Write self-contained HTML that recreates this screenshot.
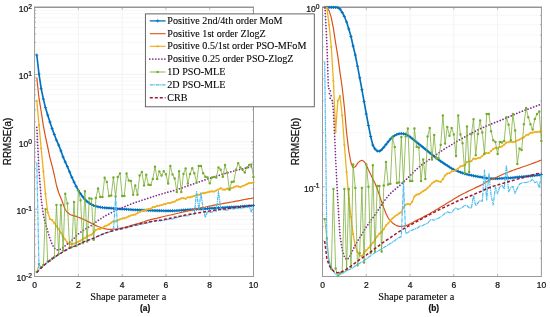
<!DOCTYPE html>
<html lang="en">
<head>
<meta charset="utf-8">
<title>RRMSE versus shape parameter a</title>
<style>
html,body{margin:0;padding:0;background:#fff;}
body{width:550px;height:317px;overflow:hidden;font-family:"Liberation Sans",sans-serif;}
svg{display:block;}
</style>
</head>
<body>
<svg width="550" height="317" viewBox="0 0 550 317">
<rect width="550" height="317" fill="#fff"/>
<path d="M78.4 7.2V276.5M122.2 7.2V276.5M165.9 7.2V276.5M209.7 7.2V276.5M34.6 74.5H253.5M34.6 141.8H253.5M34.6 209.2H253.5" stroke="#f0f0f0" stroke-width="0.8" fill="none"/>
<path d="M34.6 54.3H253.5M34.6 42.4H253.5M34.6 34H253.5M34.6 27.5H253.5M34.6 22.1H253.5M34.6 17.6H253.5M34.6 13.7H253.5M34.6 10.3H253.5M34.6 121.6H253.5M34.6 109.7H253.5M34.6 101.3H253.5M34.6 94.8H253.5M34.6 89.5H253.5M34.6 85H253.5M34.6 81H253.5M34.6 77.6H253.5M34.6 188.9H253.5M34.6 177.1H253.5M34.6 168.6H253.5M34.6 162.1H253.5M34.6 156.8H253.5M34.6 152.3H253.5M34.6 148.4H253.5M34.6 144.9H253.5M34.6 256.2H253.5M34.6 244.4H253.5M34.6 236H253.5M34.6 229.4H253.5M34.6 224.1H253.5M34.6 219.6H253.5M34.6 215.7H253.5M34.6 212.3H253.5" stroke="#f5f5f5" stroke-width="0.7" fill="none"/>
<path d="M366.3 7.2V276.5M410.1 7.2V276.5M453.8 7.2V276.5M497.6 7.2V276.5M322.5 186.8H541.4" stroke="#f0f0f0" stroke-width="0.8" fill="none"/>
<path d="M322.5 132.7H541.4M322.5 101.1H541.4M322.5 78.7H541.4M322.5 61.3H541.4M322.5 47H541.4M322.5 35H541.4M322.5 24.6H541.4M322.5 15.4H541.4M322.5 258.3H541.4M322.5 240.9H541.4M322.5 226.6H541.4M322.5 214.6H541.4M322.5 204.2H541.4M322.5 195H541.4" stroke="#f5f5f5" stroke-width="0.7" fill="none"/>
<defs><clipPath id="ca"><rect x="34.6" y="5.2" width="220.4" height="272.8"/></clipPath><clipPath id="cb"><rect x="322.5" y="5.2" width="220.4" height="272.8"/></clipPath></defs>
<rect x="34.6" y="7.2" width="218.9" height="269.3" fill="none" stroke="#9a9a9a" stroke-width="1"/>
<path d="M34.1 7.2H254" stroke="#8a8a8a" stroke-width="1.1" fill="none"/>
<path d="M78.4 276.5v-2.4M78.4 7.2v2.4M122.2 276.5v-2.4M122.2 7.2v2.4M165.9 276.5v-2.4M165.9 7.2v2.4M209.7 276.5v-2.4M209.7 7.2v2.4M34.6 74.5h2.4M253.5 74.5h-2.4M34.6 141.8h2.4M253.5 141.8h-2.4M34.6 209.2h2.4M253.5 209.2h-2.4M34.6 54.3h1.3M253.5 54.3h-1.3M34.6 42.4h1.3M253.5 42.4h-1.3M34.6 34h1.3M253.5 34h-1.3M34.6 27.5h1.3M253.5 27.5h-1.3M34.6 22.1h1.3M253.5 22.1h-1.3M34.6 17.6h1.3M253.5 17.6h-1.3M34.6 13.7h1.3M253.5 13.7h-1.3M34.6 10.3h1.3M253.5 10.3h-1.3M34.6 121.6h1.3M253.5 121.6h-1.3M34.6 109.7h1.3M253.5 109.7h-1.3M34.6 101.3h1.3M253.5 101.3h-1.3M34.6 94.8h1.3M253.5 94.8h-1.3M34.6 89.5h1.3M253.5 89.5h-1.3M34.6 85h1.3M253.5 85h-1.3M34.6 81h1.3M253.5 81h-1.3M34.6 77.6h1.3M253.5 77.6h-1.3M34.6 188.9h1.3M253.5 188.9h-1.3M34.6 177.1h1.3M253.5 177.1h-1.3M34.6 168.6h1.3M253.5 168.6h-1.3M34.6 162.1h1.3M253.5 162.1h-1.3M34.6 156.8h1.3M253.5 156.8h-1.3M34.6 152.3h1.3M253.5 152.3h-1.3M34.6 148.4h1.3M253.5 148.4h-1.3M34.6 144.9h1.3M253.5 144.9h-1.3M34.6 256.2h1.3M253.5 256.2h-1.3M34.6 244.4h1.3M253.5 244.4h-1.3M34.6 236h1.3M253.5 236h-1.3M34.6 229.4h1.3M253.5 229.4h-1.3M34.6 224.1h1.3M253.5 224.1h-1.3M34.6 219.6h1.3M253.5 219.6h-1.3M34.6 215.7h1.3M253.5 215.7h-1.3M34.6 212.3h1.3M253.5 212.3h-1.3" stroke="#9a9a9a" stroke-width="0.7" fill="none"/>
<rect x="322.5" y="7.2" width="218.9" height="269.3" fill="none" stroke="#9a9a9a" stroke-width="1"/>
<path d="M322 7.2H541.9" stroke="#8a8a8a" stroke-width="1.1" fill="none"/>
<path d="M366.3 276.5v-2.4M366.3 7.2v2.4M410.1 276.5v-2.4M410.1 7.2v2.4M453.8 276.5v-2.4M453.8 7.2v2.4M497.6 276.5v-2.4M497.6 7.2v2.4M322.5 186.8h2.4M541.4 186.8h-2.4M322.5 132.7h1.3M541.4 132.7h-1.3M322.5 101.1h1.3M541.4 101.1h-1.3M322.5 78.7h1.3M541.4 78.7h-1.3M322.5 61.3h1.3M541.4 61.3h-1.3M322.5 47h1.3M541.4 47h-1.3M322.5 35h1.3M541.4 35h-1.3M322.5 24.6h1.3M541.4 24.6h-1.3M322.5 15.4h1.3M541.4 15.4h-1.3M322.5 258.3h1.3M541.4 258.3h-1.3M322.5 240.9h1.3M541.4 240.9h-1.3M322.5 226.6h1.3M541.4 226.6h-1.3M322.5 214.6h1.3M541.4 214.6h-1.3M322.5 204.2h1.3M541.4 204.2h-1.3M322.5 195h1.3M541.4 195h-1.3" stroke="#9a9a9a" stroke-width="0.7" fill="none"/>
<g clip-path="url(#ca)">
<polyline points="36.8,55 39,74.1 41.2,88.7 43.4,99.1 45.5,107.7 47.7,115 49.9,122 52.1,128.6 54.3,134.4 56.5,140.2 58.7,145.1 60.9,150.8 63.1,157 65.2,161.9 67.4,166.7 69.6,171.9 71.8,177.2 74,182 76.2,186.4 78.4,190.5 80.6,193.8 82.8,196.8 84.9,199.4 87.1,201.6 89.3,203.2 91.5,204.5 93.7,205.5 95.9,206.2 98.1,206.8 100.3,207.2 102.5,207.5 104.6,207.7 106.8,207.9 109,208.1 111.2,208.3 113.4,208.4 115.6,208.6 117.8,208.8 120,208.9 122.2,209.1 124.3,209.2 126.5,209.3 128.7,209.5 130.9,209.6 133.1,209.7 135.3,209.8 137.5,209.9 139.7,210 141.9,210.1 144.1,210.2 146.2,210.3 148.4,210.4 150.6,210.4 152.8,210.5 155,210.6 157.2,210.6 159.4,210.6 161.6,210.7 163.8,210.7 165.9,210.8 168.1,210.8 170.3,210.8 172.5,210.8 174.7,210.7 176.9,210.6 179.1,210.5 181.3,210.3 183.5,210.1 185.6,209.9 187.8,209.8 190,209.6 192.2,209.5 194.4,209.4 196.6,209.3 198.8,209.2 201,209 203.2,208.9 205.3,208.7 207.5,208.6 209.7,208.4 211.9,208.2 214.1,208.1 216.3,207.9 218.5,207.8 220.7,207.7 222.9,207.6 225,207.5 227.2,207.3 229.4,207.2 231.6,207.1 233.8,207 236,206.9 238.2,206.7 240.4,206.6 242.6,206.4 244.7,206.2 246.9,206.1 249.1,205.9 251.3,205.7 253.5,205.5" fill="none" stroke="#0072BD" stroke-width="1.65" stroke-linejoin="round"/>
<path d="M35.2 55h3.1M36.8 53.5v3.1M37.4 74.1h3.1M39 72.6v3.1M39.6 88.7h3.1M41.2 87.2v3.1M41.8 99.1h3.1M43.4 97.6v3.1M44 107.7h3.1M45.5 106.1v3.1M46.2 115h3.1M47.7 113.5v3.1M48.4 122h3.1M49.9 120.5v3.1M50.6 128.6h3.1M52.1 127.1v3.1M52.8 134.4h3.1M54.3 132.9v3.1M54.9 140.2h3.1M56.5 138.7v3.1M57.1 145.1h3.1M58.7 143.5v3.1M59.3 150.8h3.1M60.9 149.3v3.1M61.5 157h3.1M63.1 155.4v3.1M63.7 161.9h3.1M65.2 160.4v3.1M65.9 166.7h3.1M67.4 165.2v3.1M68.1 171.9h3.1M69.6 170.4v3.1M70.3 177.2h3.1M71.8 175.7v3.1M72.5 182h3.1M74 180.5v3.1M74.6 186.4h3.1M76.2 184.9v3.1M76.8 190.5h3.1M78.4 188.9v3.1M79 193.8h3.1M80.6 192.3v3.1M81.2 196.8h3.1M82.8 195.3v3.1M83.4 199.4h3.1M84.9 197.8v3.1M85.6 201.6h3.1M87.1 200.1v3.1M87.8 203.2h3.1M89.3 201.7v3.1M90 204.5h3.1M91.5 202.9v3.1M92.2 205.5h3.1M93.7 203.9v3.1M94.3 206.2h3.1M95.9 204.7v3.1M96.5 206.8h3.1M98.1 205.3v3.1M98.7 207.2h3.1M100.3 205.7v3.1M100.9 207.5h3.1M102.5 206v3.1M103.1 207.7h3.1M104.6 206.2v3.1M105.3 207.9h3.1M106.8 206.4v3.1M107.5 208.1h3.1M109 206.5v3.1M109.7 208.3h3.1M111.2 206.7v3.1M111.9 208.4h3.1M113.4 206.9v3.1M114 208.6h3.1M115.6 207.1v3.1M116.2 208.8h3.1M117.8 207.2v3.1M118.4 208.9h3.1M120 207.4v3.1M120.6 209.1h3.1M122.2 207.5v3.1M122.8 209.2h3.1M124.3 207.7v3.1M125 209.3h3.1M126.5 207.8v3.1M127.2 209.5h3.1M128.7 207.9v3.1M129.4 209.6h3.1M130.9 208v3.1M131.6 209.7h3.1M133.1 208.2v3.1M133.7 209.8h3.1M135.3 208.3v3.1M135.9 209.9h3.1M137.5 208.4v3.1M138.1 210h3.1M139.7 208.5v3.1M140.3 210.1h3.1M141.9 208.6v3.1M142.5 210.2h3.1M144.1 208.7v3.1M144.7 210.3h3.1M146.2 208.7v3.1M146.9 210.4h3.1M148.4 208.8v3.1M149.1 210.4h3.1M150.6 208.9v3.1M151.3 210.5h3.1M152.8 209v3.1M153.4 210.6h3.1M155 209v3.1M155.6 210.6h3.1M157.2 209.1v3.1M157.8 210.6h3.1M159.4 209.1v3.1M160 210.7h3.1M161.6 209.1v3.1M162.2 210.7h3.1M163.8 209.2v3.1M164.4 210.8h3.1M165.9 209.2v3.1M166.6 210.8h3.1M168.1 209.2v3.1M168.8 210.8h3.1M170.3 209.2v3.1M171 210.8h3.1M172.5 209.2v3.1M173.1 210.7h3.1M174.7 209.2v3.1M175.3 210.6h3.1M176.9 209.1v3.1M177.5 210.5h3.1M179.1 208.9v3.1M179.7 210.3h3.1M181.3 208.7v3.1M181.9 210.1h3.1M183.5 208.6v3.1M184.1 209.9h3.1M185.6 208.4v3.1M186.3 209.8h3.1M187.8 208.2v3.1M188.5 209.6h3.1M190 208.1v3.1M190.7 209.5h3.1M192.2 208v3.1M192.8 209.4h3.1M194.4 207.9v3.1M195 209.3h3.1M196.6 207.7v3.1M197.2 209.2h3.1M198.8 207.6v3.1M199.4 209h3.1M201 207.5v3.1M201.6 208.9h3.1M203.2 207.3v3.1M203.8 208.7h3.1M205.3 207.2v3.1M206 208.6h3.1M207.5 207v3.1M208.2 208.4h3.1M209.7 206.9v3.1M210.4 208.2h3.1M211.9 206.7v3.1M212.5 208.1h3.1M214.1 206.5v3.1M214.7 207.9h3.1M216.3 206.4v3.1M216.9 207.8h3.1M218.5 206.2v3.1M219.1 207.7h3.1M220.7 206.1v3.1M221.3 207.6h3.1M222.9 206v3.1M223.5 207.5h3.1M225 205.9v3.1M225.7 207.3h3.1M227.2 205.8v3.1M227.9 207.2h3.1M229.4 205.7v3.1M230.1 207.1h3.1M231.6 205.6v3.1M232.2 207h3.1M233.8 205.5v3.1M234.4 206.9h3.1M236 205.3v3.1M236.6 206.7h3.1M238.2 205.2v3.1M238.8 206.6h3.1M240.4 205v3.1M241 206.4h3.1M242.6 204.9v3.1M243.2 206.2h3.1M244.7 204.7v3.1M245.4 206.1h3.1M246.9 204.5v3.1M247.6 205.9h3.1M249.1 204.3v3.1M249.8 205.7h3.1M251.3 204.2v3.1M251.9 205.5h3.1M253.5 204v3.1" stroke="#0072BD" stroke-width="0.9" fill="none"/>
<polyline points="36.8,77.6 39,98.2 41.2,111.5 43.4,126.1 45.5,136.9 47.7,147 49.9,157.7 52.1,165.9 54.3,175 56.5,185.5 58.7,192.7 60.9,197.9 63.1,204 65.2,209.5 67.4,212.5 69.6,214.3 71.8,215.2 74,215.8 76.2,216.4 78.4,217.2 80.6,218.1 82.8,219 84.9,220 87.1,221.1 89.3,222.1 91.5,223.3 93.7,224.5 95.9,225.6 98.1,226.5 100.3,227.3 102.5,228.1 104.6,228.7 106.8,229.1 109,229.3 111.2,229.4 113.4,229.2 115.6,229 117.8,228.7 120,228.3 122.2,227.9 124.3,227.5 126.5,226.9 128.7,226.3 130.9,225.6 133.1,224.9 135.3,224.3 137.5,223.7 139.7,223 141.9,222.4 144.1,221.7 146.2,220.9 148.4,220.3 150.6,219.7 152.8,219.2 155,218.7 157.2,218.2 159.4,217.6 161.6,217 163.8,216.5 165.9,216 168.1,215.5 170.3,215 172.5,214.6 174.7,214 176.9,213.5 179.1,213 181.3,212.4 183.5,211.9 185.6,211.3 187.8,210.8 190,210.3 192.2,209.8 194.4,209.3 196.6,208.9 198.8,208.4 201,207.9 203.2,207.4 205.3,207 207.5,206.5 209.7,206.1 211.9,205.7 214.1,205.2 216.3,204.8 218.5,204.4 220.7,204 222.9,203.6 225,203.2 227.2,202.8 229.4,202.4 231.6,202 233.8,201.6 236,201.2 238.2,200.8 240.4,200.4 242.6,199.9 244.7,199.5 246.9,199.1 249.1,198.7 251.3,198.3 253.5,197.8" fill="none" stroke="#D95319" stroke-width="1.2" stroke-linejoin="round"/>
<polyline points="36.8,100.8 39,124.9 41.2,148.5 43.4,171.4 45.5,194.1 47.7,212.3 49.9,218.9 52.1,220.1 54.3,222.9 56.5,226.4 58.7,229 60.9,232.9 63.1,236.5 65.2,239.5 67.4,242.7 69.6,244.1 71.8,244 74,243.6 76.2,242.8 78.4,241.7 80.6,240.6 82.8,239.3 84.9,237.9 87.1,236.1 89.3,235.5 91.5,234.6 93.7,232.3 95.9,230 98.1,229 100.3,228.8 102.5,227.9 104.6,226.3 106.8,225.5 109,224.4 111.2,222.7 113.4,221.4 115.6,221.3 117.8,220.3 120,219.3 122.2,218.5 124.3,218.2 126.5,217.5 128.7,216.4 130.9,215.5 133.1,214.8 135.3,214.5 137.5,213.2 139.7,211.9 141.9,211.1 144.1,210.7 146.2,209.8 148.4,209.1 150.6,208.8 152.8,207.2 155,206.9 157.2,205.9 159.4,205.6 161.6,205 163.8,204.3 165.9,203.9 168.1,203 170.3,203.1 172.5,202.1 174.7,201.6 176.9,200.2 179.1,199.4 181.3,198.3 183.5,198.2 185.6,198.8 187.8,197.3 190,197.4 192.2,196.6 194.4,196 196.6,195.1 198.8,194.9 201,193.7 203.2,193.2 205.3,192.9 207.5,192.3 209.7,191.7 211.9,191.3 214.1,191.6 216.3,190.5 218.5,189.6 220.7,188.2 222.9,189.6 225,189.7 227.2,188.6 229.4,188.9 231.6,188.1 233.8,187.3 236,186.3 238.2,186.4 240.4,187.2 242.6,186 244.7,185.3 246.9,184.2 249.1,183.2 251.3,183 253.5,182.4" fill="none" stroke="#EDB120" stroke-width="1.3" stroke-linejoin="round"/>
<path d="M35.7 100.8a1.1 1.1 0 1 0 2.2 0a1.1 1.1 0 1 0 -2.2 0zM37.9 124.9a1.1 1.1 0 1 0 2.2 0a1.1 1.1 0 1 0 -2.2 0zM40.1 148.5a1.1 1.1 0 1 0 2.2 0a1.1 1.1 0 1 0 -2.2 0zM42.3 171.4a1.1 1.1 0 1 0 2.2 0a1.1 1.1 0 1 0 -2.2 0zM44.4 194.1a1.1 1.1 0 1 0 2.2 0a1.1 1.1 0 1 0 -2.2 0zM46.6 212.3a1.1 1.1 0 1 0 2.2 0a1.1 1.1 0 1 0 -2.2 0zM48.8 218.9a1.1 1.1 0 1 0 2.2 0a1.1 1.1 0 1 0 -2.2 0zM51 220.1a1.1 1.1 0 1 0 2.2 0a1.1 1.1 0 1 0 -2.2 0zM53.2 222.9a1.1 1.1 0 1 0 2.2 0a1.1 1.1 0 1 0 -2.2 0zM55.4 226.4a1.1 1.1 0 1 0 2.2 0a1.1 1.1 0 1 0 -2.2 0zM57.6 229a1.1 1.1 0 1 0 2.2 0a1.1 1.1 0 1 0 -2.2 0zM59.8 232.9a1.1 1.1 0 1 0 2.2 0a1.1 1.1 0 1 0 -2.2 0zM62 236.5a1.1 1.1 0 1 0 2.2 0a1.1 1.1 0 1 0 -2.2 0zM64.1 239.5a1.1 1.1 0 1 0 2.2 0a1.1 1.1 0 1 0 -2.2 0zM66.3 242.7a1.1 1.1 0 1 0 2.2 0a1.1 1.1 0 1 0 -2.2 0zM68.5 244.1a1.1 1.1 0 1 0 2.2 0a1.1 1.1 0 1 0 -2.2 0zM70.7 244a1.1 1.1 0 1 0 2.2 0a1.1 1.1 0 1 0 -2.2 0zM72.9 243.6a1.1 1.1 0 1 0 2.2 0a1.1 1.1 0 1 0 -2.2 0zM75.1 242.8a1.1 1.1 0 1 0 2.2 0a1.1 1.1 0 1 0 -2.2 0zM77.3 241.7a1.1 1.1 0 1 0 2.2 0a1.1 1.1 0 1 0 -2.2 0zM79.5 240.6a1.1 1.1 0 1 0 2.2 0a1.1 1.1 0 1 0 -2.2 0zM81.7 239.3a1.1 1.1 0 1 0 2.2 0a1.1 1.1 0 1 0 -2.2 0zM83.8 237.9a1.1 1.1 0 1 0 2.2 0a1.1 1.1 0 1 0 -2.2 0zM86 236.1a1.1 1.1 0 1 0 2.2 0a1.1 1.1 0 1 0 -2.2 0zM88.2 235.5a1.1 1.1 0 1 0 2.2 0a1.1 1.1 0 1 0 -2.2 0zM90.4 234.6a1.1 1.1 0 1 0 2.2 0a1.1 1.1 0 1 0 -2.2 0zM92.6 232.3a1.1 1.1 0 1 0 2.2 0a1.1 1.1 0 1 0 -2.2 0zM94.8 230a1.1 1.1 0 1 0 2.2 0a1.1 1.1 0 1 0 -2.2 0zM97 229a1.1 1.1 0 1 0 2.2 0a1.1 1.1 0 1 0 -2.2 0zM99.2 228.8a1.1 1.1 0 1 0 2.2 0a1.1 1.1 0 1 0 -2.2 0zM101.4 227.9a1.1 1.1 0 1 0 2.2 0a1.1 1.1 0 1 0 -2.2 0zM103.5 226.3a1.1 1.1 0 1 0 2.2 0a1.1 1.1 0 1 0 -2.2 0zM105.7 225.5a1.1 1.1 0 1 0 2.2 0a1.1 1.1 0 1 0 -2.2 0zM107.9 224.4a1.1 1.1 0 1 0 2.2 0a1.1 1.1 0 1 0 -2.2 0zM110.1 222.7a1.1 1.1 0 1 0 2.2 0a1.1 1.1 0 1 0 -2.2 0zM112.3 221.4a1.1 1.1 0 1 0 2.2 0a1.1 1.1 0 1 0 -2.2 0zM114.5 221.3a1.1 1.1 0 1 0 2.2 0a1.1 1.1 0 1 0 -2.2 0zM116.7 220.3a1.1 1.1 0 1 0 2.2 0a1.1 1.1 0 1 0 -2.2 0zM118.9 219.3a1.1 1.1 0 1 0 2.2 0a1.1 1.1 0 1 0 -2.2 0zM121.1 218.5a1.1 1.1 0 1 0 2.2 0a1.1 1.1 0 1 0 -2.2 0zM123.2 218.2a1.1 1.1 0 1 0 2.2 0a1.1 1.1 0 1 0 -2.2 0zM125.4 217.5a1.1 1.1 0 1 0 2.2 0a1.1 1.1 0 1 0 -2.2 0zM127.6 216.4a1.1 1.1 0 1 0 2.2 0a1.1 1.1 0 1 0 -2.2 0zM129.8 215.5a1.1 1.1 0 1 0 2.2 0a1.1 1.1 0 1 0 -2.2 0zM132 214.8a1.1 1.1 0 1 0 2.2 0a1.1 1.1 0 1 0 -2.2 0zM134.2 214.5a1.1 1.1 0 1 0 2.2 0a1.1 1.1 0 1 0 -2.2 0zM136.4 213.2a1.1 1.1 0 1 0 2.2 0a1.1 1.1 0 1 0 -2.2 0zM138.6 211.9a1.1 1.1 0 1 0 2.2 0a1.1 1.1 0 1 0 -2.2 0zM140.8 211.1a1.1 1.1 0 1 0 2.2 0a1.1 1.1 0 1 0 -2.2 0zM143 210.7a1.1 1.1 0 1 0 2.2 0a1.1 1.1 0 1 0 -2.2 0zM145.1 209.8a1.1 1.1 0 1 0 2.2 0a1.1 1.1 0 1 0 -2.2 0zM147.3 209.1a1.1 1.1 0 1 0 2.2 0a1.1 1.1 0 1 0 -2.2 0zM149.5 208.8a1.1 1.1 0 1 0 2.2 0a1.1 1.1 0 1 0 -2.2 0zM151.7 207.2a1.1 1.1 0 1 0 2.2 0a1.1 1.1 0 1 0 -2.2 0zM153.9 206.9a1.1 1.1 0 1 0 2.2 0a1.1 1.1 0 1 0 -2.2 0zM156.1 205.9a1.1 1.1 0 1 0 2.2 0a1.1 1.1 0 1 0 -2.2 0zM158.3 205.6a1.1 1.1 0 1 0 2.2 0a1.1 1.1 0 1 0 -2.2 0zM160.5 205a1.1 1.1 0 1 0 2.2 0a1.1 1.1 0 1 0 -2.2 0zM162.7 204.3a1.1 1.1 0 1 0 2.2 0a1.1 1.1 0 1 0 -2.2 0zM164.8 203.9a1.1 1.1 0 1 0 2.2 0a1.1 1.1 0 1 0 -2.2 0zM167 203a1.1 1.1 0 1 0 2.2 0a1.1 1.1 0 1 0 -2.2 0zM169.2 203.1a1.1 1.1 0 1 0 2.2 0a1.1 1.1 0 1 0 -2.2 0zM171.4 202.1a1.1 1.1 0 1 0 2.2 0a1.1 1.1 0 1 0 -2.2 0zM173.6 201.6a1.1 1.1 0 1 0 2.2 0a1.1 1.1 0 1 0 -2.2 0zM175.8 200.2a1.1 1.1 0 1 0 2.2 0a1.1 1.1 0 1 0 -2.2 0zM178 199.4a1.1 1.1 0 1 0 2.2 0a1.1 1.1 0 1 0 -2.2 0zM180.2 198.3a1.1 1.1 0 1 0 2.2 0a1.1 1.1 0 1 0 -2.2 0zM182.4 198.2a1.1 1.1 0 1 0 2.2 0a1.1 1.1 0 1 0 -2.2 0zM184.5 198.8a1.1 1.1 0 1 0 2.2 0a1.1 1.1 0 1 0 -2.2 0zM186.7 197.3a1.1 1.1 0 1 0 2.2 0a1.1 1.1 0 1 0 -2.2 0zM188.9 197.4a1.1 1.1 0 1 0 2.2 0a1.1 1.1 0 1 0 -2.2 0zM191.1 196.6a1.1 1.1 0 1 0 2.2 0a1.1 1.1 0 1 0 -2.2 0zM193.3 196a1.1 1.1 0 1 0 2.2 0a1.1 1.1 0 1 0 -2.2 0zM195.5 195.1a1.1 1.1 0 1 0 2.2 0a1.1 1.1 0 1 0 -2.2 0zM197.7 194.9a1.1 1.1 0 1 0 2.2 0a1.1 1.1 0 1 0 -2.2 0zM199.9 193.7a1.1 1.1 0 1 0 2.2 0a1.1 1.1 0 1 0 -2.2 0zM202.1 193.2a1.1 1.1 0 1 0 2.2 0a1.1 1.1 0 1 0 -2.2 0zM204.2 192.9a1.1 1.1 0 1 0 2.2 0a1.1 1.1 0 1 0 -2.2 0zM206.4 192.3a1.1 1.1 0 1 0 2.2 0a1.1 1.1 0 1 0 -2.2 0zM208.6 191.7a1.1 1.1 0 1 0 2.2 0a1.1 1.1 0 1 0 -2.2 0zM210.8 191.3a1.1 1.1 0 1 0 2.2 0a1.1 1.1 0 1 0 -2.2 0zM213 191.6a1.1 1.1 0 1 0 2.2 0a1.1 1.1 0 1 0 -2.2 0zM215.2 190.5a1.1 1.1 0 1 0 2.2 0a1.1 1.1 0 1 0 -2.2 0zM217.4 189.6a1.1 1.1 0 1 0 2.2 0a1.1 1.1 0 1 0 -2.2 0zM219.6 188.2a1.1 1.1 0 1 0 2.2 0a1.1 1.1 0 1 0 -2.2 0zM221.8 189.6a1.1 1.1 0 1 0 2.2 0a1.1 1.1 0 1 0 -2.2 0zM223.9 189.7a1.1 1.1 0 1 0 2.2 0a1.1 1.1 0 1 0 -2.2 0zM226.1 188.6a1.1 1.1 0 1 0 2.2 0a1.1 1.1 0 1 0 -2.2 0zM228.3 188.9a1.1 1.1 0 1 0 2.2 0a1.1 1.1 0 1 0 -2.2 0zM230.5 188.1a1.1 1.1 0 1 0 2.2 0a1.1 1.1 0 1 0 -2.2 0zM232.7 187.3a1.1 1.1 0 1 0 2.2 0a1.1 1.1 0 1 0 -2.2 0zM234.9 186.3a1.1 1.1 0 1 0 2.2 0a1.1 1.1 0 1 0 -2.2 0zM237.1 186.4a1.1 1.1 0 1 0 2.2 0a1.1 1.1 0 1 0 -2.2 0zM239.3 187.2a1.1 1.1 0 1 0 2.2 0a1.1 1.1 0 1 0 -2.2 0zM241.5 186a1.1 1.1 0 1 0 2.2 0a1.1 1.1 0 1 0 -2.2 0zM243.6 185.3a1.1 1.1 0 1 0 2.2 0a1.1 1.1 0 1 0 -2.2 0zM245.8 184.2a1.1 1.1 0 1 0 2.2 0a1.1 1.1 0 1 0 -2.2 0zM248 183.2a1.1 1.1 0 1 0 2.2 0a1.1 1.1 0 1 0 -2.2 0zM250.2 183a1.1 1.1 0 1 0 2.2 0a1.1 1.1 0 1 0 -2.2 0zM252.4 182.4a1.1 1.1 0 1 0 2.2 0a1.1 1.1 0 1 0 -2.2 0z" fill="#EDB120" stroke="none"/>
<polyline points="36.8,127.4 39,170.8 41.2,199.2 43.4,215.3 45.5,223.5 47.7,231.2 49.9,238.4 52.1,244.2 54.3,248.1 56.5,249.8 58.7,249.7 60.9,249.1 63.1,247.7 65.2,245.7 67.4,244 69.6,242.3 71.8,240.6 74,238.4 76.2,236 78.4,233.9 80.6,232.3 82.8,230.8 84.9,229.3 87.1,228 89.3,226.7 91.5,225.4 93.7,223.9 95.9,222.1 98.1,220.5 100.3,219 102.5,217.6 104.6,216.4 106.8,215.1 109,214 111.2,212.8 113.4,211.7 115.6,210.5 117.8,209.5 120,208.5 122.2,207.7 124.3,206.8 126.5,205.9 128.7,205 130.9,204.1 133.1,203.3 135.3,202.5 137.5,201.8 139.7,201.1 141.9,200.3 144.1,199.6 146.2,198.9 148.4,198.2 150.6,197.5 152.8,196.7 155,196 157.2,195.3 159.4,194.6 161.6,193.9 163.8,193.3 165.9,192.7 168.1,192.1 170.3,191.6 172.5,190.9 174.7,190.3 176.9,189.6 179.1,188.9 181.3,188.1 183.5,187.4 185.6,186.6 187.8,185.9 190,185.1 192.2,184.4 194.4,183.6 196.6,182.8 198.8,182 201,181.3 203.2,180.5 205.3,179.8 207.5,179 209.7,178.3 211.9,177.6 214.1,176.9 216.3,176.2 218.5,175.5 220.7,174.8 222.9,174.1 225,173.5 227.2,172.8 229.4,172.2 231.6,171.6 233.8,171 236,170.4 238.2,169.9 240.4,169.3 242.6,168.8 244.7,168.3 246.9,167.8 249.1,167.3 251.3,166.8 253.5,166.3" fill="none" stroke="#7E2F8E" stroke-width="1.75" stroke-dasharray="0.01 3" stroke-linejoin="round" stroke-linecap="round"/>
<polyline points="36.8,272 39,264 41.2,267.5 43.4,265 45.5,209.3 47.7,261.5 49.9,260.5 52.1,258.5 54.3,257 56.5,205 58.7,254 60.9,205 63.1,250.5 65.2,193.8 67.4,203.4 69.6,247.6 71.8,247 74,202.1 76.2,246 78.4,190.6 80.6,200.2 82.8,243 84.9,191.3 87.1,241.6 89.3,198.3 91.5,198.7 93.7,239.7 95.9,198 98.1,188.4 100.3,197.1 102.5,197.1 104.6,177.8 106.8,182.1 109,195.9 111.2,195.6 113.4,177.5 115.6,196.4 117.8,177 120,173.5 122.2,195.9 124.3,195.9 126.5,173.5 128.7,180.4 130.9,180.9 133.1,194.8 135.3,185.5 137.5,194.8 139.7,175.5 141.9,172.1 144.1,185.5 146.2,174.7 148.4,184.8 150.6,185.1 152.8,178.9 155,166.7 157.2,178.9 159.4,171.6 161.6,175.5 163.8,171.2 165.9,174.3 168.1,183.5 170.3,165.9 172.5,174.6 174.7,178.5 176.9,192 179.1,171.3 181.3,192.1 183.5,173.9 185.6,168.5 187.8,183.6 190,173.9 192.2,168.2 194.4,173.3 196.6,182.6 198.8,165.9 201,165.9 203.2,173.3 205.3,176.7 207.5,177.5 209.7,183.3 211.9,177.5 214.1,177 216.3,177.5 218.5,167.4 220.7,169.7 222.9,176.7 225,165.1 227.2,172.8 229.4,189.8 231.6,182.1 233.8,181.6 236,169.7 238.2,163.2 240.4,167.4 242.6,169.7 244.7,172.5 246.9,167.4 249.1,165.1 251.3,164.6 253.5,177" fill="none" stroke="#77AC30" stroke-width="0.85" stroke-linejoin="round" opacity="0.9"/>
<path d="M35.5 272a1.25 1.25 0 1 0 2.5 0a1.25 1.25 0 1 0 -2.5 0zM37.7 264a1.25 1.25 0 1 0 2.5 0a1.25 1.25 0 1 0 -2.5 0zM39.9 267.5a1.25 1.25 0 1 0 2.5 0a1.25 1.25 0 1 0 -2.5 0zM42.1 265a1.25 1.25 0 1 0 2.5 0a1.25 1.25 0 1 0 -2.5 0zM44.3 209.3a1.25 1.25 0 1 0 2.5 0a1.25 1.25 0 1 0 -2.5 0zM46.5 261.5a1.25 1.25 0 1 0 2.5 0a1.25 1.25 0 1 0 -2.5 0zM48.7 260.5a1.25 1.25 0 1 0 2.5 0a1.25 1.25 0 1 0 -2.5 0zM50.9 258.5a1.25 1.25 0 1 0 2.5 0a1.25 1.25 0 1 0 -2.5 0zM53.1 257a1.25 1.25 0 1 0 2.5 0a1.25 1.25 0 1 0 -2.5 0zM55.2 205a1.25 1.25 0 1 0 2.5 0a1.25 1.25 0 1 0 -2.5 0zM57.4 254a1.25 1.25 0 1 0 2.5 0a1.25 1.25 0 1 0 -2.5 0zM59.6 205a1.25 1.25 0 1 0 2.5 0a1.25 1.25 0 1 0 -2.5 0zM61.8 250.5a1.25 1.25 0 1 0 2.5 0a1.25 1.25 0 1 0 -2.5 0zM64 193.8a1.25 1.25 0 1 0 2.5 0a1.25 1.25 0 1 0 -2.5 0zM66.2 203.4a1.25 1.25 0 1 0 2.5 0a1.25 1.25 0 1 0 -2.5 0zM68.4 247.6a1.25 1.25 0 1 0 2.5 0a1.25 1.25 0 1 0 -2.5 0zM70.6 247a1.25 1.25 0 1 0 2.5 0a1.25 1.25 0 1 0 -2.5 0zM72.8 202.1a1.25 1.25 0 1 0 2.5 0a1.25 1.25 0 1 0 -2.5 0zM74.9 246a1.25 1.25 0 1 0 2.5 0a1.25 1.25 0 1 0 -2.5 0zM77.1 190.6a1.25 1.25 0 1 0 2.5 0a1.25 1.25 0 1 0 -2.5 0zM79.3 200.2a1.25 1.25 0 1 0 2.5 0a1.25 1.25 0 1 0 -2.5 0zM81.5 243a1.25 1.25 0 1 0 2.5 0a1.25 1.25 0 1 0 -2.5 0zM83.7 191.3a1.25 1.25 0 1 0 2.5 0a1.25 1.25 0 1 0 -2.5 0zM85.9 241.6a1.25 1.25 0 1 0 2.5 0a1.25 1.25 0 1 0 -2.5 0zM88.1 198.3a1.25 1.25 0 1 0 2.5 0a1.25 1.25 0 1 0 -2.5 0zM90.3 198.7a1.25 1.25 0 1 0 2.5 0a1.25 1.25 0 1 0 -2.5 0zM92.5 239.7a1.25 1.25 0 1 0 2.5 0a1.25 1.25 0 1 0 -2.5 0zM94.6 198a1.25 1.25 0 1 0 2.5 0a1.25 1.25 0 1 0 -2.5 0zM96.8 188.4a1.25 1.25 0 1 0 2.5 0a1.25 1.25 0 1 0 -2.5 0zM99 197.1a1.25 1.25 0 1 0 2.5 0a1.25 1.25 0 1 0 -2.5 0zM101.2 197.1a1.25 1.25 0 1 0 2.5 0a1.25 1.25 0 1 0 -2.5 0zM103.4 177.8a1.25 1.25 0 1 0 2.5 0a1.25 1.25 0 1 0 -2.5 0zM105.6 182.1a1.25 1.25 0 1 0 2.5 0a1.25 1.25 0 1 0 -2.5 0zM107.8 195.9a1.25 1.25 0 1 0 2.5 0a1.25 1.25 0 1 0 -2.5 0zM110 195.6a1.25 1.25 0 1 0 2.5 0a1.25 1.25 0 1 0 -2.5 0zM112.2 177.5a1.25 1.25 0 1 0 2.5 0a1.25 1.25 0 1 0 -2.5 0zM114.3 196.4a1.25 1.25 0 1 0 2.5 0a1.25 1.25 0 1 0 -2.5 0zM116.5 177a1.25 1.25 0 1 0 2.5 0a1.25 1.25 0 1 0 -2.5 0zM118.7 173.5a1.25 1.25 0 1 0 2.5 0a1.25 1.25 0 1 0 -2.5 0zM120.9 195.9a1.25 1.25 0 1 0 2.5 0a1.25 1.25 0 1 0 -2.5 0zM123.1 195.9a1.25 1.25 0 1 0 2.5 0a1.25 1.25 0 1 0 -2.5 0zM125.3 173.5a1.25 1.25 0 1 0 2.5 0a1.25 1.25 0 1 0 -2.5 0zM127.5 180.4a1.25 1.25 0 1 0 2.5 0a1.25 1.25 0 1 0 -2.5 0zM129.7 180.9a1.25 1.25 0 1 0 2.5 0a1.25 1.25 0 1 0 -2.5 0zM131.9 194.8a1.25 1.25 0 1 0 2.5 0a1.25 1.25 0 1 0 -2.5 0zM134 185.5a1.25 1.25 0 1 0 2.5 0a1.25 1.25 0 1 0 -2.5 0zM136.2 194.8a1.25 1.25 0 1 0 2.5 0a1.25 1.25 0 1 0 -2.5 0zM138.4 175.5a1.25 1.25 0 1 0 2.5 0a1.25 1.25 0 1 0 -2.5 0zM140.6 172.1a1.25 1.25 0 1 0 2.5 0a1.25 1.25 0 1 0 -2.5 0zM142.8 185.5a1.25 1.25 0 1 0 2.5 0a1.25 1.25 0 1 0 -2.5 0zM145 174.7a1.25 1.25 0 1 0 2.5 0a1.25 1.25 0 1 0 -2.5 0zM147.2 184.8a1.25 1.25 0 1 0 2.5 0a1.25 1.25 0 1 0 -2.5 0zM149.4 185.1a1.25 1.25 0 1 0 2.5 0a1.25 1.25 0 1 0 -2.5 0zM151.6 178.9a1.25 1.25 0 1 0 2.5 0a1.25 1.25 0 1 0 -2.5 0zM153.7 166.7a1.25 1.25 0 1 0 2.5 0a1.25 1.25 0 1 0 -2.5 0zM155.9 178.9a1.25 1.25 0 1 0 2.5 0a1.25 1.25 0 1 0 -2.5 0zM158.1 171.6a1.25 1.25 0 1 0 2.5 0a1.25 1.25 0 1 0 -2.5 0zM160.3 175.5a1.25 1.25 0 1 0 2.5 0a1.25 1.25 0 1 0 -2.5 0zM162.5 171.2a1.25 1.25 0 1 0 2.5 0a1.25 1.25 0 1 0 -2.5 0zM164.7 174.3a1.25 1.25 0 1 0 2.5 0a1.25 1.25 0 1 0 -2.5 0zM166.9 183.5a1.25 1.25 0 1 0 2.5 0a1.25 1.25 0 1 0 -2.5 0zM169.1 165.9a1.25 1.25 0 1 0 2.5 0a1.25 1.25 0 1 0 -2.5 0zM171.3 174.6a1.25 1.25 0 1 0 2.5 0a1.25 1.25 0 1 0 -2.5 0zM173.4 178.5a1.25 1.25 0 1 0 2.5 0a1.25 1.25 0 1 0 -2.5 0zM175.6 192a1.25 1.25 0 1 0 2.5 0a1.25 1.25 0 1 0 -2.5 0zM177.8 171.3a1.25 1.25 0 1 0 2.5 0a1.25 1.25 0 1 0 -2.5 0zM180 192.1a1.25 1.25 0 1 0 2.5 0a1.25 1.25 0 1 0 -2.5 0zM182.2 173.9a1.25 1.25 0 1 0 2.5 0a1.25 1.25 0 1 0 -2.5 0zM184.4 168.5a1.25 1.25 0 1 0 2.5 0a1.25 1.25 0 1 0 -2.5 0zM186.6 183.6a1.25 1.25 0 1 0 2.5 0a1.25 1.25 0 1 0 -2.5 0zM188.8 173.9a1.25 1.25 0 1 0 2.5 0a1.25 1.25 0 1 0 -2.5 0zM191 168.2a1.25 1.25 0 1 0 2.5 0a1.25 1.25 0 1 0 -2.5 0zM193.1 173.3a1.25 1.25 0 1 0 2.5 0a1.25 1.25 0 1 0 -2.5 0zM195.3 182.6a1.25 1.25 0 1 0 2.5 0a1.25 1.25 0 1 0 -2.5 0zM197.5 165.9a1.25 1.25 0 1 0 2.5 0a1.25 1.25 0 1 0 -2.5 0zM199.7 165.9a1.25 1.25 0 1 0 2.5 0a1.25 1.25 0 1 0 -2.5 0zM201.9 173.3a1.25 1.25 0 1 0 2.5 0a1.25 1.25 0 1 0 -2.5 0zM204.1 176.7a1.25 1.25 0 1 0 2.5 0a1.25 1.25 0 1 0 -2.5 0zM206.3 177.5a1.25 1.25 0 1 0 2.5 0a1.25 1.25 0 1 0 -2.5 0zM208.5 183.3a1.25 1.25 0 1 0 2.5 0a1.25 1.25 0 1 0 -2.5 0zM210.7 177.5a1.25 1.25 0 1 0 2.5 0a1.25 1.25 0 1 0 -2.5 0zM212.8 177a1.25 1.25 0 1 0 2.5 0a1.25 1.25 0 1 0 -2.5 0zM215 177.5a1.25 1.25 0 1 0 2.5 0a1.25 1.25 0 1 0 -2.5 0zM217.2 167.4a1.25 1.25 0 1 0 2.5 0a1.25 1.25 0 1 0 -2.5 0zM219.4 169.7a1.25 1.25 0 1 0 2.5 0a1.25 1.25 0 1 0 -2.5 0zM221.6 176.7a1.25 1.25 0 1 0 2.5 0a1.25 1.25 0 1 0 -2.5 0zM223.8 165.1a1.25 1.25 0 1 0 2.5 0a1.25 1.25 0 1 0 -2.5 0zM226 172.8a1.25 1.25 0 1 0 2.5 0a1.25 1.25 0 1 0 -2.5 0zM228.2 189.8a1.25 1.25 0 1 0 2.5 0a1.25 1.25 0 1 0 -2.5 0zM230.4 182.1a1.25 1.25 0 1 0 2.5 0a1.25 1.25 0 1 0 -2.5 0zM232.5 181.6a1.25 1.25 0 1 0 2.5 0a1.25 1.25 0 1 0 -2.5 0zM234.7 169.7a1.25 1.25 0 1 0 2.5 0a1.25 1.25 0 1 0 -2.5 0zM236.9 163.2a1.25 1.25 0 1 0 2.5 0a1.25 1.25 0 1 0 -2.5 0zM239.1 167.4a1.25 1.25 0 1 0 2.5 0a1.25 1.25 0 1 0 -2.5 0zM241.3 169.7a1.25 1.25 0 1 0 2.5 0a1.25 1.25 0 1 0 -2.5 0zM243.5 172.5a1.25 1.25 0 1 0 2.5 0a1.25 1.25 0 1 0 -2.5 0zM245.7 167.4a1.25 1.25 0 1 0 2.5 0a1.25 1.25 0 1 0 -2.5 0zM247.9 165.1a1.25 1.25 0 1 0 2.5 0a1.25 1.25 0 1 0 -2.5 0zM250.1 164.6a1.25 1.25 0 1 0 2.5 0a1.25 1.25 0 1 0 -2.5 0zM252.2 177a1.25 1.25 0 1 0 2.5 0a1.25 1.25 0 1 0 -2.5 0z" fill="#77AC30" stroke="none"/>
<polyline points="36.8,162.4 39,269 41.2,267.9 43.4,265.9 45.5,264 47.7,262.3 49.9,260.7 52.1,259 54.3,257.4 56.5,255.9 58.7,254.5 60.9,253.2 63.1,251.8 65.2,250.5 67.4,249.2 69.6,248.1 71.8,247.3 74,246.4 76.2,245.6 78.4,244.6 80.6,243.5 82.8,242.4 84.9,241.4 87.1,240.5 89.3,239.8 91.5,239 93.7,238.1 95.9,237.2 98.1,236.3 100.3,235.1 102.5,234.1 104.6,233.3 106.8,232.8 109,232.1 111.2,231 113.4,230.7 115.6,197.5 117.8,229.6 120,229.2 122.2,228.9 124.3,227.9 126.5,227.8 128.7,227.3 130.9,226.8 133.1,225.4 135.3,225.3 137.5,225.3 139.7,224.3 141.9,224.2 144.1,223.5 146.2,223.3 148.4,222.6 150.6,221.6 152.8,221.3 155,220.9 157.2,220.7 159.4,221.3 161.6,220.5 163.8,220.5 165.9,219.8 168.1,219.4 170.3,219.2 172.5,218.9 174.7,218.5 176.9,217.9 179.1,216.5 181.3,216.5 183.5,215.6 185.6,215.9 187.8,215.9 190,214.4 192.2,214.2 194.4,214.1 196.6,191.6 198.8,209.4 201,193.1 203.2,209.4 205.3,217.1 207.5,211.7 209.7,212.5 211.9,212.2 214.1,210.7 216.3,211.4 218.5,191.6 220.7,208.6 222.9,209.9 225,209.9 227.2,210.2 229.4,209.2 231.6,208.4 233.8,209.4 236,208 238.2,208.3 240.4,208.5 242.6,207.8 244.7,207.4 246.9,207.7 249.1,206.3 251.3,211.7 253.5,207" fill="none" stroke="#4DBEEE" stroke-width="1.2" stroke-dasharray="3.8 0.6 1 0.6" stroke-linejoin="round"/>
<polyline points="36.8,272.4 39,270.1 41.2,267.9 43.4,265.9 45.5,264 47.7,262.3 49.9,260.7 52.1,259 54.3,257.4 56.5,255.9 58.7,254.5 60.9,253.2 63.1,251.8 65.2,250.5 67.4,249.2 69.6,248.1 71.8,247.3 74,246.4 76.2,245.6 78.4,244.6 80.6,243.5 82.8,242.4 84.9,241.4 87.1,240.6 89.3,239.8 91.5,239 93.7,238.2 95.9,237.1 98.1,236.1 100.3,235.1 102.5,234.2 104.6,233.4 106.8,232.6 109,231.9 111.2,231.2 113.4,230.6 115.6,230 117.8,229.5 120,229 122.2,228.5 124.3,228 126.5,227.4 128.7,226.8 130.9,226.2 133.1,225.6 135.3,225.1 137.5,224.6 139.7,224.1 141.9,223.6 144.1,223.1 146.2,222.7 148.4,222.2 150.6,221.8 152.8,221.4 155,220.9 157.2,220.5 159.4,220.2 161.6,219.9 163.8,219.5 165.9,219.1 168.1,218.7 170.3,218.2 172.5,217.8 174.7,217.3 176.9,216.9 179.1,216.4 181.3,216 183.5,215.6 185.6,215.1 187.8,214.7 190,214.3 192.2,213.9 194.4,213.6 196.6,213.2 198.8,212.8 201,212.4 203.2,212.1 205.3,211.7 207.5,211.3 209.7,211 211.9,210.7 214.1,210.3 216.3,210 218.5,209.7 220.7,209.4 222.9,209.1 225,208.9 227.2,208.6 229.4,208.3 231.6,208.1 233.8,207.8 236,207.5 238.2,207.2 240.4,207 242.6,206.7 244.7,206.4 246.9,206.1 249.1,205.8 251.3,205.5 253.5,205.2" fill="none" stroke="#A2142F" stroke-width="1.5" stroke-dasharray="3 2" stroke-linejoin="round"/>
</g>
<g clip-path="url(#cb)">
<polyline points="324.7,7.3 326.9,7.3 329.1,7.3 331.3,7.3 333.4,7.3 335.6,7.3 337.8,7.6 340,9 342.2,12.5 344.4,16.5 346.6,22 348.8,29 351,36.5 353.1,46 355.3,55 357.5,66.2 359.7,77.7 361.9,89.7 364.1,101.6 366.3,114 368.5,125.5 370.7,136.5 372.8,145.1 375,149 377.2,151 379.4,151.2 381.6,149.8 383.8,147.3 386,144.6 388.2,141.8 390.4,139 392.5,137 394.7,135.6 396.9,134.4 399.1,133.8 401.3,133.5 403.5,133.7 405.7,134.2 407.9,135.4 410.1,136.9 412.2,138.7 414.4,140.4 416.6,142.2 418.8,144 421,145.7 423.2,147.5 425.4,149.3 427.6,151 429.8,152.8 431.9,154.6 434.1,156.4 436.3,158.1 438.5,159.7 440.7,161.2 442.9,162.7 445.1,164.2 447.3,165.6 449.5,167.1 451.7,168.4 453.8,169.5 456,170.5 458.2,171.4 460.4,172.2 462.6,173 464.8,173.7 467,174.3 469.2,174.9 471.4,175.3 473.5,175.8 475.7,176.2 477.9,176.6 480.1,177 482.3,177.4 484.5,177.8 486.7,178.2 488.9,178.4 491.1,178.5 493.2,178.6 495.4,178.6 497.6,178.6 499.8,178.5 502,178.4 504.2,178.3 506.4,178.1 508.6,178 510.8,177.9 512.9,177.7 515.1,177.4 517.3,177.2 519.5,177 521.7,176.8 523.9,176.6 526.1,176.4 528.3,176.2 530.5,175.9 532.6,175.7 534.8,175.5 537,175.2 539.2,175 541.4,174.7" fill="none" stroke="#0072BD" stroke-width="1.65" stroke-linejoin="round"/>
<path d="M323.1 7.3h3.1M324.7 5.8v3.1M325.3 7.3h3.1M326.9 5.8v3.1M327.5 7.3h3.1M329.1 5.8v3.1M329.7 7.3h3.1M331.3 5.8v3.1M331.9 7.3h3.1M333.4 5.8v3.1M334.1 7.3h3.1M335.6 5.8v3.1M336.3 7.6h3.1M337.8 6v3.1M338.5 9h3.1M340 7.5v3.1M340.7 12.5h3.1M342.2 10.9v3.1M342.8 16.5h3.1M344.4 14.9v3.1M345 22h3.1M346.6 20.4v3.1M347.2 29h3.1M348.8 27.4v3.1M349.4 36.5h3.1M351 35v3.1M351.6 46h3.1M353.1 44.5v3.1M353.8 55h3.1M355.3 53.5v3.1M356 66.2h3.1M357.5 64.7v3.1M358.2 77.7h3.1M359.7 76.2v3.1M360.4 89.7h3.1M361.9 88.2v3.1M362.5 101.6h3.1M364.1 100v3.1M364.7 114h3.1M366.3 112.5v3.1M366.9 125.5h3.1M368.5 124v3.1M369.1 136.5h3.1M370.7 134.9v3.1M371.3 145.1h3.1M372.8 143.5v3.1M373.5 149h3.1M375 147.4v3.1M375.7 151h3.1M377.2 149.4v3.1M377.9 151.2h3.1M379.4 149.6v3.1M380.1 149.8h3.1M381.6 148.2v3.1M382.2 147.3h3.1M383.8 145.8v3.1M384.4 144.6h3.1M386 143v3.1M386.6 141.8h3.1M388.2 140.2v3.1M388.8 139h3.1M390.4 137.4v3.1M391 137h3.1M392.5 135.5v3.1M393.2 135.6h3.1M394.7 134v3.1M395.4 134.4h3.1M396.9 132.9v3.1M397.6 133.8h3.1M399.1 132.2v3.1M399.8 133.5h3.1M401.3 132v3.1M401.9 133.7h3.1M403.5 132.2v3.1M404.1 134.2h3.1M405.7 132.7v3.1M406.3 135.4h3.1M407.9 133.9v3.1M408.5 136.9h3.1M410.1 135.4v3.1M410.7 138.7h3.1M412.2 137.1v3.1M412.9 140.4h3.1M414.4 138.9v3.1M415.1 142.2h3.1M416.6 140.7v3.1M417.3 144h3.1M418.8 142.4v3.1M419.5 145.7h3.1M421 144.2v3.1M421.6 147.5h3.1M423.2 146v3.1M423.8 149.3h3.1M425.4 147.7v3.1M426 151h3.1M427.6 149.5v3.1M428.2 152.8h3.1M429.8 151.2v3.1M430.4 154.6h3.1M431.9 153.1v3.1M432.6 156.4h3.1M434.1 154.8v3.1M434.8 158.1h3.1M436.3 156.5v3.1M437 159.7h3.1M438.5 158.1v3.1M439.2 161.2h3.1M440.7 159.7v3.1M441.3 162.7h3.1M442.9 161.1v3.1M443.5 164.2h3.1M445.1 162.6v3.1M445.7 165.6h3.1M447.3 164.1v3.1M447.9 167.1h3.1M449.5 165.5v3.1M450.1 168.4h3.1M451.7 166.8v3.1M452.3 169.5h3.1M453.8 167.9v3.1M454.5 170.5h3.1M456 168.9v3.1M456.7 171.4h3.1M458.2 169.8v3.1M458.9 172.2h3.1M460.4 170.7v3.1M461 173h3.1M462.6 171.4v3.1M463.2 173.7h3.1M464.8 172.2v3.1M465.4 174.3h3.1M467 172.8v3.1M467.6 174.9h3.1M469.2 173.3v3.1M469.8 175.3h3.1M471.4 173.8v3.1M472 175.8h3.1M473.5 174.2v3.1M474.2 176.2h3.1M475.7 174.6v3.1M476.4 176.6h3.1M477.9 175v3.1M478.6 177h3.1M480.1 175.4v3.1M480.7 177.4h3.1M482.3 175.8v3.1M482.9 177.8h3.1M484.5 176.2v3.1M485.1 178.2h3.1M486.7 176.7v3.1M487.3 178.4h3.1M488.9 176.9v3.1M489.5 178.5h3.1M491.1 177v3.1M491.7 178.6h3.1M493.2 177v3.1M493.9 178.6h3.1M495.4 177v3.1M496.1 178.6h3.1M497.6 177v3.1M498.3 178.5h3.1M499.8 176.9v3.1M500.4 178.4h3.1M502 176.8v3.1M502.6 178.3h3.1M504.2 176.7v3.1M504.8 178.1h3.1M506.4 176.6v3.1M507 178h3.1M508.6 176.5v3.1M509.2 177.9h3.1M510.8 176.3v3.1M511.4 177.7h3.1M512.9 176.1v3.1M513.6 177.4h3.1M515.1 175.9v3.1M515.8 177.2h3.1M517.3 175.6v3.1M518 177h3.1M519.5 175.4v3.1M520.1 176.8h3.1M521.7 175.2v3.1M522.3 176.6h3.1M523.9 175v3.1M524.5 176.4h3.1M526.1 174.8v3.1M526.7 176.2h3.1M528.3 174.6v3.1M528.9 175.9h3.1M530.5 174.4v3.1M531.1 175.7h3.1M532.6 174.2v3.1M533.3 175.5h3.1M534.8 173.9v3.1M535.5 175.2h3.1M537 173.7v3.1M537.7 175h3.1M539.2 173.4v3.1M539.9 174.7h3.1M541.4 173.2v3.1" stroke="#0072BD" stroke-width="0.9" fill="none"/>
<polyline points="324.7,7.3 326.9,7.9 329.1,10.6 331.3,17.6 333.4,28.3 335.6,42.9 337.8,56.2 340,72.3 342.2,87.5 344.4,107.5 346.6,132.7 348.8,151 351,163 353.1,167.7 355.3,166.8 357.5,163.4 359.7,161.2 361.9,160.3 364.1,161.5 366.3,164.9 368.5,169.9 370.7,174.6 372.8,178.9 375,183.2 377.2,188.8 379.4,195.1 381.6,201.7 383.8,207.9 386,213.5 388.2,218 390.4,220.9 392.5,222.9 394.7,224.5 396.9,225.7 399.1,226.3 401.3,226.3 403.5,226.2 405.7,225.7 407.9,224.9 410.1,223.9 412.2,222.7 414.4,221.5 416.6,220.4 418.8,219.3 421,218.2 423.2,217.1 425.4,215.9 427.6,214.7 429.8,213.5 431.9,212.2 434.1,211 436.3,209.7 438.5,208.4 440.7,207.1 442.9,205.8 445.1,204.5 447.3,203.1 449.5,201.7 451.7,200.4 453.8,199 456,197.7 458.2,196.4 460.4,195.2 462.6,194 464.8,193 467,191.9 469.2,190.8 471.4,189.7 473.5,188.7 475.7,187.6 477.9,186.6 480.1,185.6 482.3,184.6 484.5,183.3 486.7,181.8 488.9,180.6 491.1,179.5 493.2,178.6 495.4,177.7 497.6,176.7 499.8,175.7 502,174.7 504.2,173.8 506.4,172.9 508.6,172 510.8,171.1 512.9,170.3 515.1,169.6 517.3,168.8 519.5,168.1 521.7,167.3 523.9,166.5 526.1,165.8 528.3,165 530.5,164.2 532.6,163.4 534.8,162.6 537,161.7 539.2,160.9 541.4,160" fill="none" stroke="#D95319" stroke-width="1.2" stroke-linejoin="round"/>
<polyline points="324.7,7.3 326.9,7.8 329.1,25 331.3,47 333.4,81 335.6,131.7 337.8,100.8 340,96.2 342.2,115.5 344.4,145.1 346.6,172.2 348.8,198.4 351,217 353.1,233.9 355.3,246 357.5,252 359.7,255.5 361.9,256 364.1,252.5 366.3,250.2 368.5,248.1 370.7,245.5 372.8,242.8 375,239.8 377.2,236.3 379.4,233.7 381.6,232.2 383.8,229.2 386,225.4 388.2,223.3 390.4,220.6 392.5,218.3 394.7,216.5 396.9,215 399.1,213.4 401.3,212.2 403.5,207.5 405.7,204.6 407.9,204 410.1,204.5 412.2,201.8 414.4,196.6 416.6,194.7 418.8,194.2 421,192.6 423.2,191.2 425.4,189.9 427.6,188 429.8,185.9 431.9,183.5 434.1,181.9 436.3,180.6 438.5,181.3 440.7,181.8 442.9,179.2 445.1,175.4 447.3,173.5 449.5,173.2 451.7,171.3 453.8,171 456,169.8 458.2,168.5 460.4,166.4 462.6,165.8 464.8,165.2 467,161.8 469.2,161.6 471.4,161.2 473.5,158.5 475.7,159 477.9,158 480.1,157.8 482.3,156.1 484.5,153.1 486.7,153.1 488.9,153.1 491.1,151 493.2,149.1 495.4,147.9 497.6,148.2 499.8,147 502,146.5 504.2,144.7 506.4,142.7 508.6,142.2 510.8,141.7 512.9,142.2 515.1,141.6 517.3,140.5 519.5,139.7 521.7,138.3 523.9,137.3 526.1,135.3 528.3,134.7 530.5,132.9 532.6,132.6 534.8,132.1 537,132.1 539.2,131.7 541.4,131" fill="none" stroke="#EDB120" stroke-width="1.3" stroke-linejoin="round"/>
<path d="M323.6 7.3a1.1 1.1 0 1 0 2.2 0a1.1 1.1 0 1 0 -2.2 0zM325.8 7.8a1.1 1.1 0 1 0 2.2 0a1.1 1.1 0 1 0 -2.2 0zM328 25a1.1 1.1 0 1 0 2.2 0a1.1 1.1 0 1 0 -2.2 0zM330.2 47a1.1 1.1 0 1 0 2.2 0a1.1 1.1 0 1 0 -2.2 0zM332.3 81a1.1 1.1 0 1 0 2.2 0a1.1 1.1 0 1 0 -2.2 0zM334.5 131.7a1.1 1.1 0 1 0 2.2 0a1.1 1.1 0 1 0 -2.2 0zM336.7 100.8a1.1 1.1 0 1 0 2.2 0a1.1 1.1 0 1 0 -2.2 0zM338.9 96.2a1.1 1.1 0 1 0 2.2 0a1.1 1.1 0 1 0 -2.2 0zM341.1 115.5a1.1 1.1 0 1 0 2.2 0a1.1 1.1 0 1 0 -2.2 0zM343.3 145.1a1.1 1.1 0 1 0 2.2 0a1.1 1.1 0 1 0 -2.2 0zM345.5 172.2a1.1 1.1 0 1 0 2.2 0a1.1 1.1 0 1 0 -2.2 0zM347.7 198.4a1.1 1.1 0 1 0 2.2 0a1.1 1.1 0 1 0 -2.2 0zM349.9 217a1.1 1.1 0 1 0 2.2 0a1.1 1.1 0 1 0 -2.2 0zM352 233.9a1.1 1.1 0 1 0 2.2 0a1.1 1.1 0 1 0 -2.2 0zM354.2 246a1.1 1.1 0 1 0 2.2 0a1.1 1.1 0 1 0 -2.2 0zM356.4 252a1.1 1.1 0 1 0 2.2 0a1.1 1.1 0 1 0 -2.2 0zM358.6 255.5a1.1 1.1 0 1 0 2.2 0a1.1 1.1 0 1 0 -2.2 0zM360.8 256a1.1 1.1 0 1 0 2.2 0a1.1 1.1 0 1 0 -2.2 0zM363 252.5a1.1 1.1 0 1 0 2.2 0a1.1 1.1 0 1 0 -2.2 0zM365.2 250.2a1.1 1.1 0 1 0 2.2 0a1.1 1.1 0 1 0 -2.2 0zM367.4 248.1a1.1 1.1 0 1 0 2.2 0a1.1 1.1 0 1 0 -2.2 0zM369.6 245.5a1.1 1.1 0 1 0 2.2 0a1.1 1.1 0 1 0 -2.2 0zM371.7 242.8a1.1 1.1 0 1 0 2.2 0a1.1 1.1 0 1 0 -2.2 0zM373.9 239.8a1.1 1.1 0 1 0 2.2 0a1.1 1.1 0 1 0 -2.2 0zM376.1 236.3a1.1 1.1 0 1 0 2.2 0a1.1 1.1 0 1 0 -2.2 0zM378.3 233.7a1.1 1.1 0 1 0 2.2 0a1.1 1.1 0 1 0 -2.2 0zM380.5 232.2a1.1 1.1 0 1 0 2.2 0a1.1 1.1 0 1 0 -2.2 0zM382.7 229.2a1.1 1.1 0 1 0 2.2 0a1.1 1.1 0 1 0 -2.2 0zM384.9 225.4a1.1 1.1 0 1 0 2.2 0a1.1 1.1 0 1 0 -2.2 0zM387.1 223.3a1.1 1.1 0 1 0 2.2 0a1.1 1.1 0 1 0 -2.2 0zM389.3 220.6a1.1 1.1 0 1 0 2.2 0a1.1 1.1 0 1 0 -2.2 0zM391.4 218.3a1.1 1.1 0 1 0 2.2 0a1.1 1.1 0 1 0 -2.2 0zM393.6 216.5a1.1 1.1 0 1 0 2.2 0a1.1 1.1 0 1 0 -2.2 0zM395.8 215a1.1 1.1 0 1 0 2.2 0a1.1 1.1 0 1 0 -2.2 0zM398 213.4a1.1 1.1 0 1 0 2.2 0a1.1 1.1 0 1 0 -2.2 0zM400.2 212.2a1.1 1.1 0 1 0 2.2 0a1.1 1.1 0 1 0 -2.2 0zM402.4 207.5a1.1 1.1 0 1 0 2.2 0a1.1 1.1 0 1 0 -2.2 0zM404.6 204.6a1.1 1.1 0 1 0 2.2 0a1.1 1.1 0 1 0 -2.2 0zM406.8 204a1.1 1.1 0 1 0 2.2 0a1.1 1.1 0 1 0 -2.2 0zM409 204.5a1.1 1.1 0 1 0 2.2 0a1.1 1.1 0 1 0 -2.2 0zM411.1 201.8a1.1 1.1 0 1 0 2.2 0a1.1 1.1 0 1 0 -2.2 0zM413.3 196.6a1.1 1.1 0 1 0 2.2 0a1.1 1.1 0 1 0 -2.2 0zM415.5 194.7a1.1 1.1 0 1 0 2.2 0a1.1 1.1 0 1 0 -2.2 0zM417.7 194.2a1.1 1.1 0 1 0 2.2 0a1.1 1.1 0 1 0 -2.2 0zM419.9 192.6a1.1 1.1 0 1 0 2.2 0a1.1 1.1 0 1 0 -2.2 0zM422.1 191.2a1.1 1.1 0 1 0 2.2 0a1.1 1.1 0 1 0 -2.2 0zM424.3 189.9a1.1 1.1 0 1 0 2.2 0a1.1 1.1 0 1 0 -2.2 0zM426.5 188a1.1 1.1 0 1 0 2.2 0a1.1 1.1 0 1 0 -2.2 0zM428.7 185.9a1.1 1.1 0 1 0 2.2 0a1.1 1.1 0 1 0 -2.2 0zM430.8 183.5a1.1 1.1 0 1 0 2.2 0a1.1 1.1 0 1 0 -2.2 0zM433 181.9a1.1 1.1 0 1 0 2.2 0a1.1 1.1 0 1 0 -2.2 0zM435.2 180.6a1.1 1.1 0 1 0 2.2 0a1.1 1.1 0 1 0 -2.2 0zM437.4 181.3a1.1 1.1 0 1 0 2.2 0a1.1 1.1 0 1 0 -2.2 0zM439.6 181.8a1.1 1.1 0 1 0 2.2 0a1.1 1.1 0 1 0 -2.2 0zM441.8 179.2a1.1 1.1 0 1 0 2.2 0a1.1 1.1 0 1 0 -2.2 0zM444 175.4a1.1 1.1 0 1 0 2.2 0a1.1 1.1 0 1 0 -2.2 0zM446.2 173.5a1.1 1.1 0 1 0 2.2 0a1.1 1.1 0 1 0 -2.2 0zM448.4 173.2a1.1 1.1 0 1 0 2.2 0a1.1 1.1 0 1 0 -2.2 0zM450.6 171.3a1.1 1.1 0 1 0 2.2 0a1.1 1.1 0 1 0 -2.2 0zM452.7 171a1.1 1.1 0 1 0 2.2 0a1.1 1.1 0 1 0 -2.2 0zM454.9 169.8a1.1 1.1 0 1 0 2.2 0a1.1 1.1 0 1 0 -2.2 0zM457.1 168.5a1.1 1.1 0 1 0 2.2 0a1.1 1.1 0 1 0 -2.2 0zM459.3 166.4a1.1 1.1 0 1 0 2.2 0a1.1 1.1 0 1 0 -2.2 0zM461.5 165.8a1.1 1.1 0 1 0 2.2 0a1.1 1.1 0 1 0 -2.2 0zM463.7 165.2a1.1 1.1 0 1 0 2.2 0a1.1 1.1 0 1 0 -2.2 0zM465.9 161.8a1.1 1.1 0 1 0 2.2 0a1.1 1.1 0 1 0 -2.2 0zM468.1 161.6a1.1 1.1 0 1 0 2.2 0a1.1 1.1 0 1 0 -2.2 0zM470.3 161.2a1.1 1.1 0 1 0 2.2 0a1.1 1.1 0 1 0 -2.2 0zM472.4 158.5a1.1 1.1 0 1 0 2.2 0a1.1 1.1 0 1 0 -2.2 0zM474.6 159a1.1 1.1 0 1 0 2.2 0a1.1 1.1 0 1 0 -2.2 0zM476.8 158a1.1 1.1 0 1 0 2.2 0a1.1 1.1 0 1 0 -2.2 0zM479 157.8a1.1 1.1 0 1 0 2.2 0a1.1 1.1 0 1 0 -2.2 0zM481.2 156.1a1.1 1.1 0 1 0 2.2 0a1.1 1.1 0 1 0 -2.2 0zM483.4 153.1a1.1 1.1 0 1 0 2.2 0a1.1 1.1 0 1 0 -2.2 0zM485.6 153.1a1.1 1.1 0 1 0 2.2 0a1.1 1.1 0 1 0 -2.2 0zM487.8 153.1a1.1 1.1 0 1 0 2.2 0a1.1 1.1 0 1 0 -2.2 0zM490 151a1.1 1.1 0 1 0 2.2 0a1.1 1.1 0 1 0 -2.2 0zM492.1 149.1a1.1 1.1 0 1 0 2.2 0a1.1 1.1 0 1 0 -2.2 0zM494.3 147.9a1.1 1.1 0 1 0 2.2 0a1.1 1.1 0 1 0 -2.2 0zM496.5 148.2a1.1 1.1 0 1 0 2.2 0a1.1 1.1 0 1 0 -2.2 0zM498.7 147a1.1 1.1 0 1 0 2.2 0a1.1 1.1 0 1 0 -2.2 0zM500.9 146.5a1.1 1.1 0 1 0 2.2 0a1.1 1.1 0 1 0 -2.2 0zM503.1 144.7a1.1 1.1 0 1 0 2.2 0a1.1 1.1 0 1 0 -2.2 0zM505.3 142.7a1.1 1.1 0 1 0 2.2 0a1.1 1.1 0 1 0 -2.2 0zM507.5 142.2a1.1 1.1 0 1 0 2.2 0a1.1 1.1 0 1 0 -2.2 0zM509.7 141.7a1.1 1.1 0 1 0 2.2 0a1.1 1.1 0 1 0 -2.2 0zM511.8 142.2a1.1 1.1 0 1 0 2.2 0a1.1 1.1 0 1 0 -2.2 0zM514 141.6a1.1 1.1 0 1 0 2.2 0a1.1 1.1 0 1 0 -2.2 0zM516.2 140.5a1.1 1.1 0 1 0 2.2 0a1.1 1.1 0 1 0 -2.2 0zM518.4 139.7a1.1 1.1 0 1 0 2.2 0a1.1 1.1 0 1 0 -2.2 0zM520.6 138.3a1.1 1.1 0 1 0 2.2 0a1.1 1.1 0 1 0 -2.2 0zM522.8 137.3a1.1 1.1 0 1 0 2.2 0a1.1 1.1 0 1 0 -2.2 0zM525 135.3a1.1 1.1 0 1 0 2.2 0a1.1 1.1 0 1 0 -2.2 0zM527.2 134.7a1.1 1.1 0 1 0 2.2 0a1.1 1.1 0 1 0 -2.2 0zM529.4 132.9a1.1 1.1 0 1 0 2.2 0a1.1 1.1 0 1 0 -2.2 0zM531.5 132.6a1.1 1.1 0 1 0 2.2 0a1.1 1.1 0 1 0 -2.2 0zM533.7 132.1a1.1 1.1 0 1 0 2.2 0a1.1 1.1 0 1 0 -2.2 0zM535.9 132.1a1.1 1.1 0 1 0 2.2 0a1.1 1.1 0 1 0 -2.2 0zM538.1 131.7a1.1 1.1 0 1 0 2.2 0a1.1 1.1 0 1 0 -2.2 0zM540.3 131a1.1 1.1 0 1 0 2.2 0a1.1 1.1 0 1 0 -2.2 0z" fill="#EDB120" stroke="none"/>
<polyline points="325,7.6 327,46 328.4,88 330.6,90.5 329.3,93.5 331.4,95.2 329.9,98 332.2,100.5 333.3,110 334.1,125 334.9,141 335.6,158 337.8,201 340,235.5 342.2,249.5 344.4,256.8 346.6,259.6 348.8,258 351,254 353.1,249.5 355.3,245 357.5,241.2 359.7,237.8 361.9,234.1 364.1,230.4 366.3,227 368.5,223.8 370.7,220.7 372.8,217.9 375,214.8 377.2,211.5 379.4,208.1 381.6,204.9 383.8,201.7 386,198.7 388.2,195.9 390.4,193.6 392.5,191.5 394.7,189.7 396.9,187.9 399.1,186 401.3,184 403.5,182 405.7,179.9 407.9,177.8 410.1,175.6 412.2,173.4 414.4,171.3 416.6,169.2 418.8,167.2 421,165.4 423.2,163.7 425.4,162.2 427.6,160.7 429.8,159.2 431.9,157.7 434.1,156.1 436.3,154.6 438.5,153 440.7,151.5 442.9,150 445.1,148.6 447.3,147.2 449.5,146 451.7,144.7 453.8,143.3 456,142 458.2,140.6 460.4,139.4 462.6,138.2 464.8,137 467,135.9 469.2,134.5 471.4,133.2 473.5,132.1 475.7,131 477.9,129.9 480.1,128.9 482.3,127.9 484.5,126.9 486.7,126 488.9,125 491.1,124.1 493.2,123.2 495.4,122.4 497.6,121.5 499.8,120.7 502,119.8 504.2,118.9 506.4,118 508.6,117 510.8,116.1 512.9,115.1 515.1,114.2 517.3,113.2 519.5,112.3 521.7,111.5 523.9,110.6 526.1,109.8 528.3,109 530.5,108.2 532.6,107.4 534.8,106.6 537,105.8 539.2,104.9 541.4,104" fill="none" stroke="#7E2F8E" stroke-width="1.75" stroke-dasharray="0.01 3" stroke-linejoin="round" stroke-linecap="round"/>
<polyline points="324.7,219 326.9,238.5 329.1,262 331.3,269 333.4,189.1 335.6,268.6 337.8,276 340,273 342.2,272 344.4,189.1 346.6,270 348.8,189.1 351,267 353.1,164.5 355.3,188.1 357.5,265.3 359.7,253.2 361.9,188.1 364.1,262.6 366.3,164.5 368.5,186.8 370.7,253.1 372.8,165.2 375,251.6 377.2,186 379.4,186 381.6,251.6 383.8,185.6 386,162.1 388.2,184.5 390.4,183.7 392.5,137.4 394.7,147 396.9,183 399.1,182.5 401.3,137 403.5,182 405.7,136.6 407.9,128.6 410.1,181.1 412.2,181.1 414.4,128.6 416.6,146.7 418.8,147.5 421,181.1 423.2,159.5 425.4,179.1 427.6,136.5 429.8,127.9 431.9,159.5 434.1,135.1 436.3,158.3 438.5,158.3 440.7,145.1 442.9,115.5 445.1,143.6 447.3,127.1 449.5,135.7 451.7,127.9 453.8,134.5 456,156 458.2,115.6 460.4,134.5 462.6,143.2 464.8,173 467,126.5 469.2,172 471.4,134.2 473.5,119.3 475.7,155.2 477.9,134.1 480.1,120.6 482.3,132.5 484.5,154 486.7,114 488.9,114 491.1,131.2 493.2,140.2 495.4,141.9 497.6,153.9 499.8,141.9 502,142.4 504.2,141.1 506.4,117.3 508.6,124.7 510.8,140.2 512.9,114 515.1,130.4 517.3,163.9 519.5,148.4 521.7,150.1 523.9,124.3 526.1,108 528.3,117.3 530.5,124.3 532.6,129.6 534.8,118.9 537,114 539.2,111.6 541.4,141.1" fill="none" stroke="#77AC30" stroke-width="0.85" stroke-linejoin="round" opacity="0.9"/>
<path d="M323.4 219a1.25 1.25 0 1 0 2.5 0a1.25 1.25 0 1 0 -2.5 0zM325.6 238.5a1.25 1.25 0 1 0 2.5 0a1.25 1.25 0 1 0 -2.5 0zM327.8 262a1.25 1.25 0 1 0 2.5 0a1.25 1.25 0 1 0 -2.5 0zM330 269a1.25 1.25 0 1 0 2.5 0a1.25 1.25 0 1 0 -2.5 0zM332.2 189.1a1.25 1.25 0 1 0 2.5 0a1.25 1.25 0 1 0 -2.5 0zM334.4 268.6a1.25 1.25 0 1 0 2.5 0a1.25 1.25 0 1 0 -2.5 0zM336.6 276a1.25 1.25 0 1 0 2.5 0a1.25 1.25 0 1 0 -2.5 0zM338.8 273a1.25 1.25 0 1 0 2.5 0a1.25 1.25 0 1 0 -2.5 0zM341 272a1.25 1.25 0 1 0 2.5 0a1.25 1.25 0 1 0 -2.5 0zM343.1 189.1a1.25 1.25 0 1 0 2.5 0a1.25 1.25 0 1 0 -2.5 0zM345.3 270a1.25 1.25 0 1 0 2.5 0a1.25 1.25 0 1 0 -2.5 0zM347.5 189.1a1.25 1.25 0 1 0 2.5 0a1.25 1.25 0 1 0 -2.5 0zM349.7 267a1.25 1.25 0 1 0 2.5 0a1.25 1.25 0 1 0 -2.5 0zM351.9 164.5a1.25 1.25 0 1 0 2.5 0a1.25 1.25 0 1 0 -2.5 0zM354.1 188.1a1.25 1.25 0 1 0 2.5 0a1.25 1.25 0 1 0 -2.5 0zM356.3 265.3a1.25 1.25 0 1 0 2.5 0a1.25 1.25 0 1 0 -2.5 0zM358.5 253.2a1.25 1.25 0 1 0 2.5 0a1.25 1.25 0 1 0 -2.5 0zM360.7 188.1a1.25 1.25 0 1 0 2.5 0a1.25 1.25 0 1 0 -2.5 0zM362.8 262.6a1.25 1.25 0 1 0 2.5 0a1.25 1.25 0 1 0 -2.5 0zM365 164.5a1.25 1.25 0 1 0 2.5 0a1.25 1.25 0 1 0 -2.5 0zM367.2 186.8a1.25 1.25 0 1 0 2.5 0a1.25 1.25 0 1 0 -2.5 0zM369.4 253.1a1.25 1.25 0 1 0 2.5 0a1.25 1.25 0 1 0 -2.5 0zM371.6 165.2a1.25 1.25 0 1 0 2.5 0a1.25 1.25 0 1 0 -2.5 0zM373.8 251.6a1.25 1.25 0 1 0 2.5 0a1.25 1.25 0 1 0 -2.5 0zM376 186a1.25 1.25 0 1 0 2.5 0a1.25 1.25 0 1 0 -2.5 0zM378.2 186a1.25 1.25 0 1 0 2.5 0a1.25 1.25 0 1 0 -2.5 0zM380.4 251.6a1.25 1.25 0 1 0 2.5 0a1.25 1.25 0 1 0 -2.5 0zM382.5 185.6a1.25 1.25 0 1 0 2.5 0a1.25 1.25 0 1 0 -2.5 0zM384.7 162.1a1.25 1.25 0 1 0 2.5 0a1.25 1.25 0 1 0 -2.5 0zM386.9 184.5a1.25 1.25 0 1 0 2.5 0a1.25 1.25 0 1 0 -2.5 0zM389.1 183.7a1.25 1.25 0 1 0 2.5 0a1.25 1.25 0 1 0 -2.5 0zM391.3 137.4a1.25 1.25 0 1 0 2.5 0a1.25 1.25 0 1 0 -2.5 0zM393.5 147a1.25 1.25 0 1 0 2.5 0a1.25 1.25 0 1 0 -2.5 0zM395.7 183a1.25 1.25 0 1 0 2.5 0a1.25 1.25 0 1 0 -2.5 0zM397.9 182.5a1.25 1.25 0 1 0 2.5 0a1.25 1.25 0 1 0 -2.5 0zM400.1 137a1.25 1.25 0 1 0 2.5 0a1.25 1.25 0 1 0 -2.5 0zM402.2 182a1.25 1.25 0 1 0 2.5 0a1.25 1.25 0 1 0 -2.5 0zM404.4 136.6a1.25 1.25 0 1 0 2.5 0a1.25 1.25 0 1 0 -2.5 0zM406.6 128.6a1.25 1.25 0 1 0 2.5 0a1.25 1.25 0 1 0 -2.5 0zM408.8 181.1a1.25 1.25 0 1 0 2.5 0a1.25 1.25 0 1 0 -2.5 0zM411 181.1a1.25 1.25 0 1 0 2.5 0a1.25 1.25 0 1 0 -2.5 0zM413.2 128.6a1.25 1.25 0 1 0 2.5 0a1.25 1.25 0 1 0 -2.5 0zM415.4 146.7a1.25 1.25 0 1 0 2.5 0a1.25 1.25 0 1 0 -2.5 0zM417.6 147.5a1.25 1.25 0 1 0 2.5 0a1.25 1.25 0 1 0 -2.5 0zM419.8 181.1a1.25 1.25 0 1 0 2.5 0a1.25 1.25 0 1 0 -2.5 0zM421.9 159.5a1.25 1.25 0 1 0 2.5 0a1.25 1.25 0 1 0 -2.5 0zM424.1 179.1a1.25 1.25 0 1 0 2.5 0a1.25 1.25 0 1 0 -2.5 0zM426.3 136.5a1.25 1.25 0 1 0 2.5 0a1.25 1.25 0 1 0 -2.5 0zM428.5 127.9a1.25 1.25 0 1 0 2.5 0a1.25 1.25 0 1 0 -2.5 0zM430.7 159.5a1.25 1.25 0 1 0 2.5 0a1.25 1.25 0 1 0 -2.5 0zM432.9 135.1a1.25 1.25 0 1 0 2.5 0a1.25 1.25 0 1 0 -2.5 0zM435.1 158.3a1.25 1.25 0 1 0 2.5 0a1.25 1.25 0 1 0 -2.5 0zM437.3 158.3a1.25 1.25 0 1 0 2.5 0a1.25 1.25 0 1 0 -2.5 0zM439.5 145.1a1.25 1.25 0 1 0 2.5 0a1.25 1.25 0 1 0 -2.5 0zM441.6 115.5a1.25 1.25 0 1 0 2.5 0a1.25 1.25 0 1 0 -2.5 0zM443.8 143.6a1.25 1.25 0 1 0 2.5 0a1.25 1.25 0 1 0 -2.5 0zM446 127.1a1.25 1.25 0 1 0 2.5 0a1.25 1.25 0 1 0 -2.5 0zM448.2 135.7a1.25 1.25 0 1 0 2.5 0a1.25 1.25 0 1 0 -2.5 0zM450.4 127.9a1.25 1.25 0 1 0 2.5 0a1.25 1.25 0 1 0 -2.5 0zM452.6 134.5a1.25 1.25 0 1 0 2.5 0a1.25 1.25 0 1 0 -2.5 0zM454.8 156a1.25 1.25 0 1 0 2.5 0a1.25 1.25 0 1 0 -2.5 0zM457 115.6a1.25 1.25 0 1 0 2.5 0a1.25 1.25 0 1 0 -2.5 0zM459.2 134.5a1.25 1.25 0 1 0 2.5 0a1.25 1.25 0 1 0 -2.5 0zM461.3 143.2a1.25 1.25 0 1 0 2.5 0a1.25 1.25 0 1 0 -2.5 0zM463.5 173a1.25 1.25 0 1 0 2.5 0a1.25 1.25 0 1 0 -2.5 0zM465.7 126.5a1.25 1.25 0 1 0 2.5 0a1.25 1.25 0 1 0 -2.5 0zM467.9 172a1.25 1.25 0 1 0 2.5 0a1.25 1.25 0 1 0 -2.5 0zM470.1 134.2a1.25 1.25 0 1 0 2.5 0a1.25 1.25 0 1 0 -2.5 0zM472.3 119.3a1.25 1.25 0 1 0 2.5 0a1.25 1.25 0 1 0 -2.5 0zM474.5 155.2a1.25 1.25 0 1 0 2.5 0a1.25 1.25 0 1 0 -2.5 0zM476.7 134.1a1.25 1.25 0 1 0 2.5 0a1.25 1.25 0 1 0 -2.5 0zM478.9 120.6a1.25 1.25 0 1 0 2.5 0a1.25 1.25 0 1 0 -2.5 0zM481 132.5a1.25 1.25 0 1 0 2.5 0a1.25 1.25 0 1 0 -2.5 0zM483.2 154a1.25 1.25 0 1 0 2.5 0a1.25 1.25 0 1 0 -2.5 0zM485.4 114a1.25 1.25 0 1 0 2.5 0a1.25 1.25 0 1 0 -2.5 0zM487.6 114a1.25 1.25 0 1 0 2.5 0a1.25 1.25 0 1 0 -2.5 0zM489.8 131.2a1.25 1.25 0 1 0 2.5 0a1.25 1.25 0 1 0 -2.5 0zM492 140.2a1.25 1.25 0 1 0 2.5 0a1.25 1.25 0 1 0 -2.5 0zM494.2 141.9a1.25 1.25 0 1 0 2.5 0a1.25 1.25 0 1 0 -2.5 0zM496.4 153.9a1.25 1.25 0 1 0 2.5 0a1.25 1.25 0 1 0 -2.5 0zM498.6 141.9a1.25 1.25 0 1 0 2.5 0a1.25 1.25 0 1 0 -2.5 0zM500.7 142.4a1.25 1.25 0 1 0 2.5 0a1.25 1.25 0 1 0 -2.5 0zM502.9 141.1a1.25 1.25 0 1 0 2.5 0a1.25 1.25 0 1 0 -2.5 0zM505.1 117.3a1.25 1.25 0 1 0 2.5 0a1.25 1.25 0 1 0 -2.5 0zM507.3 124.7a1.25 1.25 0 1 0 2.5 0a1.25 1.25 0 1 0 -2.5 0zM509.5 140.2a1.25 1.25 0 1 0 2.5 0a1.25 1.25 0 1 0 -2.5 0zM511.7 114a1.25 1.25 0 1 0 2.5 0a1.25 1.25 0 1 0 -2.5 0zM513.9 130.4a1.25 1.25 0 1 0 2.5 0a1.25 1.25 0 1 0 -2.5 0zM516.1 163.9a1.25 1.25 0 1 0 2.5 0a1.25 1.25 0 1 0 -2.5 0zM518.3 148.4a1.25 1.25 0 1 0 2.5 0a1.25 1.25 0 1 0 -2.5 0zM520.4 150.1a1.25 1.25 0 1 0 2.5 0a1.25 1.25 0 1 0 -2.5 0zM522.6 124.3a1.25 1.25 0 1 0 2.5 0a1.25 1.25 0 1 0 -2.5 0zM524.8 108a1.25 1.25 0 1 0 2.5 0a1.25 1.25 0 1 0 -2.5 0zM527 117.3a1.25 1.25 0 1 0 2.5 0a1.25 1.25 0 1 0 -2.5 0zM529.2 124.3a1.25 1.25 0 1 0 2.5 0a1.25 1.25 0 1 0 -2.5 0zM531.4 129.6a1.25 1.25 0 1 0 2.5 0a1.25 1.25 0 1 0 -2.5 0zM533.6 118.9a1.25 1.25 0 1 0 2.5 0a1.25 1.25 0 1 0 -2.5 0zM535.8 114a1.25 1.25 0 1 0 2.5 0a1.25 1.25 0 1 0 -2.5 0zM538 111.6a1.25 1.25 0 1 0 2.5 0a1.25 1.25 0 1 0 -2.5 0zM540.1 141.1a1.25 1.25 0 1 0 2.5 0a1.25 1.25 0 1 0 -2.5 0z" fill="#77AC30" stroke="none"/>
<polyline points="324.7,61.6 326.9,246 329.1,260.6 331.3,267 333.4,271 335.6,274.3 337.8,275.2 340,274.7 342.2,273.7 344.4,272.1 346.6,270.8 348.8,269.8 351,268.8 353.1,267.5 355.3,266.1 357.5,264.7 359.7,263.3 361.9,261.9 364.1,260.4 366.3,258.9 368.5,257.3 370.7,255.8 372.8,254.2 375,252.8 377.2,251.5 379.4,250.2 381.6,248.9 383.8,247.6 386,246.2 388.2,244.8 390.4,243.4 392.5,242.1 394.7,240.7 396.9,239 399.1,237.6 401.3,236.6 403.5,183 405.7,233.7 407.9,232.4 410.1,230.8 412.2,230.1 414.4,229.1 416.6,228.4 418.8,226.9 421,225.9 423.2,225.3 425.4,224 427.6,223.5 429.8,220.3 431.9,219.6 434.1,220.3 436.3,218.9 438.5,218.2 440.7,216.8 442.9,215.1 445.1,213.2 447.3,211.9 449.5,212.6 451.7,212.7 453.8,209.6 456,207.9 458.2,209.5 460.4,208.5 462.6,207.3 464.8,205.3 467,205.7 469.2,207.7 471.4,208.1 473.5,195.7 475.7,205.7 477.9,203 480.1,200.5 482.3,201.3 484.5,170.1 486.7,200 488.9,173.2 491.1,195.5 493.2,205 495.4,187.2 497.6,193.8 499.8,186.5 502,185.5 504.2,188.8 506.4,165.5 508.6,191.8 510.8,187.5 512.9,186.4 515.1,193.4 517.3,188 519.5,184.1 521.7,183 523.9,182.6 526.1,182.5 528.3,182 530.5,181 532.6,179.5 534.8,182.6 537,181.8 539.2,187.2 541.4,174.7" fill="none" stroke="#4DBEEE" stroke-width="1.2" stroke-dasharray="3.8 0.6 1 0.6" stroke-linejoin="round"/>
<polyline points="324.7,241 326.9,258.9 329.1,265.2 331.3,268.7 333.4,271 335.6,272.3 337.8,272.8 340,272.4 342.2,271.5 344.4,270.5 346.6,269.1 348.8,267.5 351,266 353.1,264.4 355.3,262.8 357.5,261.2 359.7,259.6 361.9,258.1 364.1,256.5 366.3,255 368.5,253.4 370.7,251.8 372.8,250.2 375,248.6 377.2,246.9 379.4,245.3 381.6,243.6 383.8,242 386,240.5 388.2,239.1 390.4,237.7 392.5,236.2 394.7,234.7 396.9,233.1 399.1,231.7 401.3,230.3 403.5,228.9 405.7,227.6 407.9,226.4 410.1,225.2 412.2,224.1 414.4,222.9 416.6,221.7 418.8,220.5 421,219.3 423.2,218.1 425.4,216.9 427.6,215.7 429.8,214.6 431.9,213.4 434.1,212.3 436.3,211.2 438.5,210.1 440.7,209 442.9,207.9 445.1,206.9 447.3,205.9 449.5,204.9 451.7,203.9 453.8,202.9 456,201.8 458.2,200.8 460.4,199.8 462.6,199 464.8,198.1 467,197.3 469.2,196.4 471.4,195.5 473.5,194.5 475.7,193.6 477.9,192.7 480.1,191.8 482.3,190.8 484.5,189.8 486.7,188.8 488.9,187.8 491.1,187.1 493.2,186.3 495.4,185.6 497.6,185 499.8,184.3 502,183.7 504.2,183 506.4,182.4 508.6,181.7 510.8,181.1 512.9,180.4 515.1,179.8 517.3,179.1 519.5,178.5 521.7,177.9 523.9,177.4 526.1,176.8 528.3,176.2 530.5,175.5 532.6,174.9 534.8,174.3 537,173.8 539.2,173.3 541.4,172.9" fill="none" stroke="#A2142F" stroke-width="1.5" stroke-dasharray="3 2" stroke-linejoin="round"/>
</g>
<rect x="145.4" y="13.9" width="168.9" height="92.89999999999999" fill="#fff" stroke="#555" stroke-width="0.9"/>
<polyline points="149.8,20.9 165.6,20.9" fill="none" stroke="#0072BD" stroke-width="1.3" stroke-linejoin="round"/><path d="M156.1 20.9h3.1M157.7 19.3v3.1" stroke="#0072BD" stroke-width="0.9" fill="none"/>
<polyline points="149.8,33.7 165.6,33.7" fill="none" stroke="#D95319" stroke-width="1.1" stroke-linejoin="round"/>
<polyline points="149.8,46.3 165.6,46.3" fill="none" stroke="#EDB120" stroke-width="1.2" stroke-linejoin="round"/><path d="M156.6 46.3a1.1 1.1 0 1 0 2.2 0a1.1 1.1 0 1 0 -2.2 0z" fill="#EDB120" stroke="none"/>
<polyline points="149.8,59.1 165.6,59.1" fill="none" stroke="#7E2F8E" stroke-width="1.75" stroke-dasharray="0.01 3" stroke-linejoin="round" stroke-linecap="round"/>
<polyline points="149.8,72 165.6,72" fill="none" stroke="#77AC30" stroke-width="0.85" stroke-linejoin="round"/><path d="M156.4 72a1.25 1.25 0 1 0 2.5 0a1.25 1.25 0 1 0 -2.5 0z" fill="#77AC30" stroke="none"/>
<polyline points="149.8,84.9 165.6,84.9" fill="none" stroke="#4DBEEE" stroke-width="1.2" stroke-dasharray="3.8 0.6 1 0.6" stroke-linejoin="round"/>
<polyline points="149.8,97.7 165.6,97.7" fill="none" stroke="#A2142F" stroke-width="1.5" stroke-dasharray="3 2" stroke-linejoin="round"/>
<g font-family="'Liberation Serif', serif" font-size="10.1" fill="#000" stroke="#000" stroke-width="0.09">
<text x="167.3" y="24">Positive 2nd/4th order MoM</text>
<text x="167.3" y="36.8">Positive 1st order ZlogZ</text>
<text x="167.3" y="49.4">Positive 0.5/1st order PSO-MFoM</text>
<text x="167.3" y="62.2">Positive 0.25 order PSO-ZlogZ</text>
<text x="167.3" y="75.1">1D PSO-MLE</text>
<text x="167.3" y="88">2D PSO-MLE</text>
<text x="167.3" y="100.8">CRB</text>
</g>
<g font-family="'Liberation Sans', sans-serif" fill="#111" stroke="#111" stroke-width="0.22">
<text transform="translate(34.6,288) scale(1,1.13)" font-size="8.5" text-anchor="middle">0</text>
<text transform="translate(78.4,288) scale(1,1.13)" font-size="8.5" text-anchor="middle">2</text>
<text transform="translate(122.2,288) scale(1,1.13)" font-size="8.5" text-anchor="middle">4</text>
<text transform="translate(165.9,288) scale(1,1.13)" font-size="8.5" text-anchor="middle">6</text>
<text transform="translate(209.7,288) scale(1,1.13)" font-size="8.5" text-anchor="middle">8</text>
<text transform="translate(253.5,288) scale(1,1.13)" font-size="8.5" text-anchor="middle">10</text>
<text transform="translate(322.5,288) scale(1,1.13)" font-size="8.5" text-anchor="middle">0</text>
<text transform="translate(366.3,288) scale(1,1.13)" font-size="8.5" text-anchor="middle">2</text>
<text transform="translate(410.1,288) scale(1,1.13)" font-size="8.5" text-anchor="middle">4</text>
<text transform="translate(453.8,288) scale(1,1.13)" font-size="8.5" text-anchor="middle">6</text>
<text transform="translate(497.6,288) scale(1,1.13)" font-size="8.5" text-anchor="middle">8</text>
<text transform="translate(541.4,288) scale(1,1.13)" font-size="8.5" text-anchor="middle">10</text>
<text transform="translate(32,12.1) scale(1,1.13)" font-size="8.6" text-anchor="end">10<tspan font-size="6.7" dy="-2.9">2</tspan></text>
<text transform="translate(32,79.4) scale(1,1.13)" font-size="8.6" text-anchor="end">10<tspan font-size="6.7" dy="-2.9">1</tspan></text>
<text transform="translate(32,146.8) scale(1,1.13)" font-size="8.6" text-anchor="end">10<tspan font-size="6.7" dy="-2.9">0</tspan></text>
<text transform="translate(32,214.1) scale(1,1.13)" font-size="8.6" text-anchor="end">10<tspan font-size="6.7" dy="-2.9">-1</tspan></text>
<text transform="translate(32,281.4) scale(1,1.13)" font-size="8.6" text-anchor="end">10<tspan font-size="6.7" dy="-2.9">-2</tspan></text>
<text transform="translate(319.4,12.1) scale(1,1.13)" font-size="8.6" text-anchor="end">10<tspan font-size="6.7" dy="-2.9">0</tspan></text>
<text transform="translate(319.4,191.7) scale(1,1.13)" font-size="8.6" text-anchor="end">10<tspan font-size="6.7" dy="-2.9">-1</tspan></text>
<text transform="translate(11.4,141.5) rotate(-90) scale(1,1.13)" font-size="9.8" text-anchor="middle">RRMSE(a)</text>
<text transform="translate(299.4,141.5) rotate(-90) scale(1,1.13)" font-size="9.8" text-anchor="middle">RRMSE(b)</text>
<text x="145.2" y="311.4" font-size="8.4" font-weight="bold" text-anchor="middle">(a)</text>
<text x="433.8" y="311.4" font-size="8.4" font-weight="bold" text-anchor="middle">(b)</text>
</g>
<g font-family="'Liberation Serif', serif" font-size="10.3" fill="#000" stroke="#000" stroke-width="0.09">
<text x="128.2" y="300.2" text-anchor="middle">Shape parameter a</text>
<text x="416.2" y="300.2" text-anchor="middle">Shape parameter a</text>
</g>
</svg>
</body>
</html>
